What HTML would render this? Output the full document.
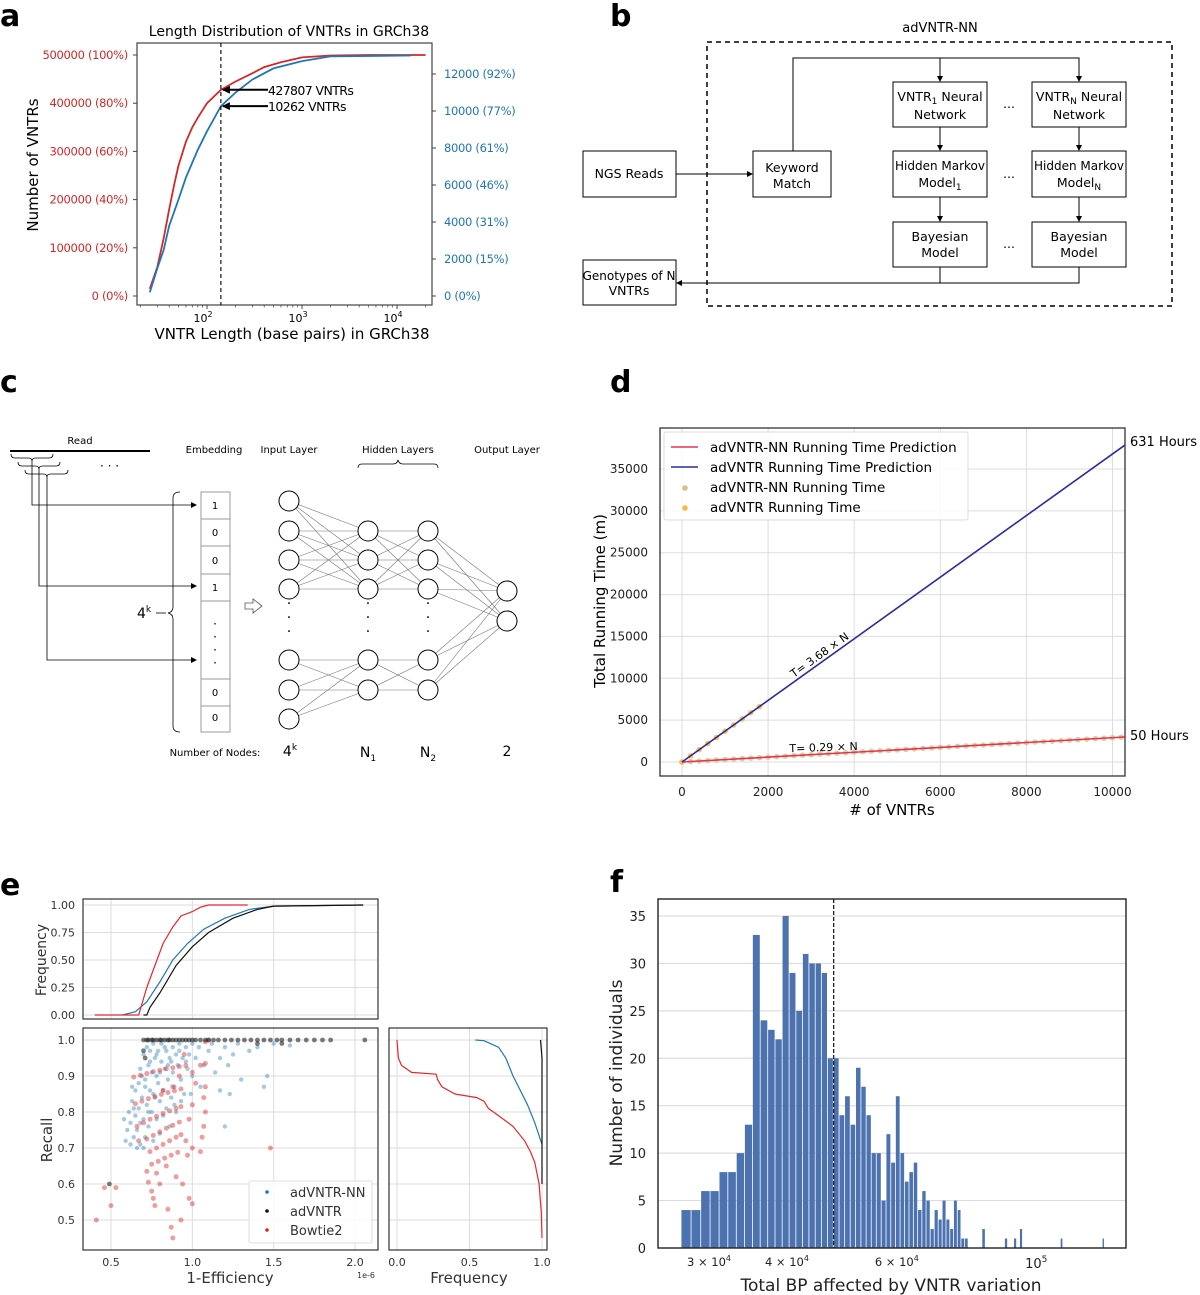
<!DOCTYPE html>
<html><head><meta charset="utf-8"><style>
body{margin:0;background:#fff}
svg{display:block;font-family:"DejaVu Sans","Liberation Sans",sans-serif}
</style></head><body>
<svg id="fig" width="1200" height="1295" viewBox="0 0 1200 1295" xmlns="http://www.w3.org/2000/svg">
<defs>
<marker id="ah" markerWidth="8" markerHeight="8" refX="7" refY="4" orient="auto" markerUnits="userSpaceOnUse"><path d="M0,0 L8,4 L0,8 z" fill="#000"/></marker>
<marker id="ahs" markerWidth="6" markerHeight="6" refX="5" refY="3" orient="auto" markerUnits="userSpaceOnUse"><path d="M0,0 L6,3 L0,6 z" fill="#000"/></marker>
</defs>
<g font-weight="bold" font-size="30" fill="#000">
<text x="0" y="26">a</text>
<text x="610" y="26">b</text>
<text x="0" y="392">c</text>
<text x="610" y="392">d</text>
<text x="0" y="895">e</text>
<text x="610" y="892">f</text>
</g>

<g id="pb" font-size="12.5" text-anchor="middle" fill="#000">
<text x="940" y="32" font-size="13">adVNTR-NN</text>
<rect x="707" y="42" width="465" height="264" fill="none" stroke="#000" stroke-width="1.5" stroke-dasharray="5,4"/>
<g fill="#fff" stroke="#000" stroke-width="1">
<rect x="583" y="151" width="93" height="46"/>
<rect x="753" y="151" width="78" height="46"/>
<rect x="893" y="82" width="94" height="45"/>
<rect x="1032" y="82" width="94" height="45"/>
<rect x="893" y="151" width="94" height="46"/>
<rect x="1032" y="151" width="94" height="46"/>
<rect x="893" y="222" width="94" height="45"/>
<rect x="1032" y="222" width="94" height="45"/>
<rect x="583" y="260" width="93" height="45"/>
</g>
<text x="629" y="178">NGS Reads</text>
<text x="792" y="172">Keyword</text><text x="792" y="188">Match</text>
<text x="940" y="101">VNTR<tspan font-size="9" dy="3">1</tspan><tspan dy="-3"> Neural</tspan></text><text x="940" y="119">Network</text>
<text x="1079" y="101">VNTR<tspan font-size="9" dy="3">N</tspan><tspan dy="-3"> Neural</tspan></text><text x="1079" y="119">Network</text>
<text x="940" y="170" font-size="12">Hidden Markov</text><text x="940" y="187">Model<tspan font-size="9" dy="3">1</tspan></text>
<text x="1079" y="170" font-size="12">Hidden Markov</text><text x="1079" y="187">Model<tspan font-size="9" dy="3">N</tspan></text>
<text x="940" y="241">Bayesian</text><text x="940" y="257">Model</text>
<text x="1079" y="241">Bayesian</text><text x="1079" y="257">Model</text>
<text x="629" y="280" font-size="12">Genotypes of N</text><text x="629" y="295">VNTRs</text>
<text x="1009" y="108">...</text><text x="1009" y="178">...</text><text x="1009" y="248">...</text>
<g fill="none" stroke="#000" stroke-width="1">
<line x1="676" y1="174" x2="752" y2="174" marker-end="url(#ahs)"/>
<path d="M793,151 V58 H940 V81" marker-end="url(#ahs)"/>
<path d="M940,58 H1079 V81" marker-end="url(#ahs)"/>
<line x1="940" y1="127" x2="940" y2="150" marker-end="url(#ahs)"/>
<line x1="1079" y1="127" x2="1079" y2="150" marker-end="url(#ahs)"/>
<line x1="940" y1="197" x2="940" y2="221" marker-end="url(#ahs)"/>
<line x1="1079" y1="197" x2="1079" y2="221" marker-end="url(#ahs)"/>
<path d="M940,267 V283"/>
<path d="M1079,267 V283 H677" marker-end="url(#ahs)"/>
</g>
</g>

<g id="pc" font-size="10" fill="#000">
<text x="80" y="444" text-anchor="middle">Read</text>
<line x1="10" y1="451" x2="150" y2="451" stroke="#000" stroke-width="2"/>
<text x="100" y="470" font-size="12">· · ·</text>
<g fill="none" stroke="#000" stroke-width="0.8">
<path d="M11,454 q0,4 4,4 h13 q4,0 4,3 q0,-3 4,-3 h13 q4,0 4,-4"/>
<path d="M18,462 q0,4 4,4 h13 q4,0 4,3 q0,-3 4,-3 h13 q4,0 4,-4"/>
<path d="M25,470 q0,4 4,4 h14 q4,0 4,3 q0,-3 4,-3 h13 q4,0 4,-4"/>
<path d="M32,461 V505 H196" marker-end="url(#ahs)"/>
<path d="M39,469 V586 H196" marker-end="url(#ahs)"/>
<path d="M47,477 V660 H196" marker-end="url(#ahs)"/>
<path d="M180,492 q-7,0 -7,6 V607 q0,5 -5,6 q5,1 5,6 V726 q0,6 7,6"/>
<line x1="156" y1="613" x2="166" y2="613"/>
</g>
<text x="137" y="618" font-size="14">4<tspan font-size="9" dy="-6">k</tspan></text>
<text x="214" y="453" text-anchor="middle">Embedding</text>
<text x="289" y="453" text-anchor="middle">Input Layer</text>
<text x="398" y="453" text-anchor="middle">Hidden Layers</text>
<text x="507" y="453" text-anchor="middle">Output Layer</text>
<path d="M358,468 q0,-4 4,-4 h31 q4,0 5,-4 q1,4 5,4 h31 q4,0 4,4" fill="none" stroke="#000" stroke-width="0.8"/>
<g stroke="#999" fill="#fff" stroke-width="1">
<rect x="201" y="492" width="29" height="240"/>
<line x1="201" y1="519" x2="230" y2="519"/><line x1="201" y1="546" x2="230" y2="546"/><line x1="201" y1="574" x2="230" y2="574"/><line x1="201" y1="601" x2="230" y2="601"/><line x1="201" y1="679" x2="230" y2="679"/><line x1="201" y1="706" x2="230" y2="706"/>
</g>
<g text-anchor="middle" font-size="10">
<text x="215" y="509">1</text><text x="215" y="536">0</text><text x="215" y="564">0</text><text x="215" y="591">1</text><text x="215" y="696">0</text><text x="215" y="721">0</text>
<text x="215" y="628" font-size="12">·</text><text x="215" y="641" font-size="12">·</text><text x="215" y="654" font-size="12">·</text><text x="215" y="667" font-size="12">·</text>
<text x="289" y="608" font-size="14">·</text><text x="289" y="622" font-size="14">·</text><text x="289" y="636" font-size="14">·</text>
<text x="368" y="608" font-size="14">·</text><text x="368" y="622" font-size="14">·</text><text x="368" y="636" font-size="14">·</text>
<text x="428" y="608" font-size="14">·</text><text x="428" y="622" font-size="14">·</text><text x="428" y="636" font-size="14">·</text>
</g>
<path d="M245,603 h8 v-4 l9,7 l-9,7 v-4 h-8 z" fill="#fff" stroke="#555" stroke-width="0.8"/>
<g id="nnEdges" stroke="#777" stroke-width="0.6"></g>
<g id="nnNodes" fill="#fff" stroke="#000" stroke-width="1"></g>
<text x="215" y="756" text-anchor="middle" font-size="10">Number of Nodes:</text>
<g font-size="14" text-anchor="middle">
<text x="290" y="756">4<tspan font-size="9" dy="-6">k</tspan></text>
<text x="368" y="757">N<tspan font-size="9" dy="4">1</tspan></text>
<text x="428" y="757">N<tspan font-size="9" dy="4">2</tspan></text>
<text x="507" y="756">2</text>
</g>
</g>

<g id="pa"></g>
<g id="pd"></g>
<g id="pe"></g>
<g id="pf"></g>
</svg>
<script>
// ---------- data panel a ----------
const aLenAll = [25,30,35,40,45,50,60,70,80,100,140,200,300,400,600,1000,2000,5000,20000];
const aCntAll = [15000,60000,120000,180000,230000,270000,320000,350000,370000,400000,427807,445000,462000,475000,485000,495000,499000,500000,500000];
const aLenSel = [25,30,35,40,50,60,80,100,140,200,300,500,1000,2000,14000];
const aCntSel = [200,1500,2500,3800,5200,6400,7900,8900,10262,11000,11700,12300,12700,12950,13000];
const aLeftTicks = [0,100000,200000,300000,400000,500000];
const aLeftLabels = ["0 (0%)","100000 (20%)","200000 (40%)","300000 (60%)","400000 (80%)","500000 (100%)"];
const aRightTicks = [0,2000,4000,6000,8000,10000,12000];
const aRightLabels = ["0 (0%)","2000 (15%)","4000 (31%)","6000 (46%)","8000 (61%)","10000 (77%)","12000 (92%)"];
const aThreshold = 140;
// ---------- data panel d ----------
const dPredN = [0,10280];
const dPredNN = [0,2981];
const dPredAdv = [0,37830];
const dNNn = [0,200,400,600,800,1000,1200,1400,1600,1800,2000,2200,2400,2600,2800,3000,3200,3400,3600,3800,4000,4200,4400,4600,4800,5000,5200,5400,5600,5800,6000,6200,6400,6600,6800,7000,7200,7400,7600,7800,8000,8200,8400,8600,8800,9000,9200,9400,9600,9800,10000,10200];
const dNNt = [0,60,115,175,230,290,350,405,465,520,580,640,695,755,810,870,930,985,1045,1100,1160,1220,1275,1335,1390,1450,1510,1565,1625,1680,1740,1800,1855,1915,1970,2030,2090,2145,2205,2260,2320,2380,2435,2495,2550,2610,2670,2725,2785,2840,2900,2960];
const dAdvN = [0,200,400,600,800,1000,1200,1400,1600,1800];
const dAdvT = [0,740,1470,2210,2940,3680,4420,5150,5890,6620];
const dXTicks = [0,2000,4000,6000,8000,10000];
const dYTicks = [0,5000,10000,15000,20000,25000,30000,35000];
// ---------- data panel e ----------
const eNNEff = [0.58,0.59,0.6,0.61,0.62,0.62,0.63,0.64,0.65,0.65,0.66,0.67,0.67,0.68,0.68,0.69,0.7,0.7,0.71,0.71,0.72,0.72,0.73,0.73,0.74,0.74,0.75,0.75,0.76,0.76,0.77,0.77,0.78,0.78,0.79,0.79,0.8,0.8,0.81,0.81,0.82,0.82,0.83,0.84,0.84,0.85,0.86,0.86,0.87,0.88,0.88,0.89,0.9,0.9,0.91,0.92,0.93,0.94,0.95,0.96,0.97,0.98,1.0,1.0,1.02,1.04,1.05,1.07,1.1,1.12,1.14,1.17,1.2,1.22,1.25,1.28,1.3,1.35,1.4,1.44,1.46,1.5,1.6,1.2,0.93,0.66,0.7,1.17,1.23,0.99,0.63,0.69,0.74,0.78,0.83,0.87,0.92,0.96,0.71,0.76,0.8,0.85,0.89,0.64,0.68,0.73];
const eNNRec = [0.78,0.72,0.75,0.8,0.71,0.77,0.83,0.73,0.79,0.86,0.75,0.88,0.81,0.71,0.92,0.84,0.78,0.96,0.73,0.89,0.82,0.98,0.76,0.93,0.86,0.97,0.8,0.91,0.72,0.99,0.84,0.95,0.78,0.9,0.88,0.97,0.74,0.83,0.94,0.99,0.86,0.79,0.92,0.97,0.81,0.89,0.95,0.76,0.84,0.98,0.91,0.87,0.96,0.8,0.93,0.99,0.89,0.95,0.85,0.98,0.92,0.96,0.99,0.9,0.95,0.98,0.87,0.93,0.97,0.99,0.91,0.95,0.98,0.93,0.96,0.99,0.89,0.97,0.98,0.87,0.9,0.99,0.985,0.76,0.83,0.7,0.7,0.86,0.85,0.85,0.87,0.9,0.94,0.96,0.98,0.94,0.97,0.94,0.87,0.85,0.91,0.93,0.82,0.81,0.77,0.8];
const eAdvEff = [0.7,0.72,0.73,0.75,0.76,0.78,0.8,0.81,0.83,0.85,0.86,0.88,0.9,0.92,0.94,0.96,0.98,1.0,1.02,1.05,1.08,1.1,1.13,1.16,1.2,1.24,1.28,1.32,1.36,1.4,1.44,1.48,1.52,1.55,1.6,1.65,1.7,1.75,1.8,1.85,2.06,0.7,0.71,0.49,1.4,1.55];
const eAdvRec = [1,1,1,1,1,1,1,1,1,1,1,1,1,1,1,1,1,1,1,1,1,1,1,1,1,1,1,1,1,1,1,1,1,1,1,1,1,1,1,1,1,0.97,0.95,0.6,0.99,0.99];
const eBowEff = [0.64,0.68,0.72,0.76,0.8,0.84,0.88,0.92,0.96,0.65,0.69,0.73,0.77,0.81,0.85,0.89,0.93,0.7,0.74,0.78,0.82,0.86,0.9,0.93,0.72,0.76,0.8,0.84,0.88,0.92,0.74,0.78,0.82,0.86,0.9,0.93,0.75,0.79,0.83,0.87,0.91,0.72,0.73,0.75,0.78,0.8,0.76,0.77,0.85,0.87,0.88,0.93,0.98,0.5,0.46,0.41,0.53,0.66,0.67,1.05,1.08,1.08,1.07,1.08,1.07,1.06,1.05,1.0,1.02,1.0,0.98,1.0,0.97,1.48,1.1,1.08,0.95,0.88,0.92,0.82,0.96,0.94,1.0,0.9,0.84];
const eBowRec = [0.897,0.902,0.907,0.912,0.916,0.92,0.923,0.926,0.929,0.823,0.83,0.837,0.843,0.849,0.854,0.859,0.864,0.77,0.78,0.788,0.796,0.803,0.81,0.815,0.725,0.735,0.745,0.755,0.763,0.772,0.69,0.7,0.71,0.72,0.73,0.737,0.655,0.663,0.672,0.68,0.688,0.635,0.605,0.58,0.63,0.6,0.56,0.54,0.53,0.48,0.45,0.5,0.56,0.54,0.59,0.5,0.59,0.76,0.72,0.93,0.935,0.87,0.84,0.8,0.76,0.73,0.69,0.91,0.88,0.82,0.78,0.7,0.68,0.7,1.0,0.995,0.96,0.87,0.9,0.86,0.72,0.6,0.545,0.62,0.65];
const eCdfNNx = [0.57,0.65,0.72,0.8,0.88,0.97,1.07,1.2,1.35,1.5,2.05];
const eCdfNNy = [0,0.03,0.12,0.3,0.5,0.65,0.78,0.88,0.96,0.99,1.0];
const eCdfAdvX = [0.7,0.72,0.74,0.8,0.9,1.0,1.1,1.25,1.4,1.5,2.05];
const eCdfAdvY = [0,0,0.07,0.2,0.45,0.62,0.75,0.88,0.96,0.99,1.0];
const eCdfBowX = [0.4,0.67,0.69,0.72,0.77,0.82,0.88,0.93,1.0,1.05,1.1,1.34];
const eCdfBowY = [0,0,0.1,0.25,0.45,0.65,0.8,0.9,0.94,0.98,1.0,1.0];
const eRNNf = [0.54,0.6,0.7,0.75,0.8,0.85,0.9,0.95,1.0];
const eRNNr = [1.0,0.998,0.98,0.95,0.9,0.86,0.82,0.77,0.71];
const eRAdvF = [0.99,1.0,1.0];
const eRAdvR = [1.0,0.95,0.6];
const eRBowF = [0,0.01,0.03,0.1,0.27,0.28,0.31,0.4,0.55,0.6,0.63,0.7,0.8,0.88,0.92,0.95,0.98,0.995,1.0];
const eRBowR = [1.0,0.95,0.93,0.91,0.905,0.89,0.87,0.85,0.84,0.83,0.81,0.79,0.76,0.72,0.69,0.66,0.6,0.52,0.45];
const eXTicks = [0.5,1.0,1.5,2.0];
const eYTicks = [0.5,0.6,0.7,0.8,0.9,1.0];
const eTopTicks = [0,0.25,0.5,0.75,1.0];
const eTopLabels = ["0.00","0.25","0.50","0.75","1.00"];
const eRTicks = [0,0.5,1.0];
// ---------- data panel f ----------
const fBinStart = 26800;
const fBinWidth = 1010;
const fCounts = [4,4,6,6,8,8,10,13,33,24,23,22,35,29,25,31,30,30,29,20,20,14,16,13,19,17,14,10,10,5,12,9,16,10,7,8,9,4,6,5,2,4,3,5,3,2,5,4,1,1,0,0,0,0,2,0,0,0,0,0,0,1,0,0,1,0,2,0,0,0,0,0,0,0,0,0,0,0,0,0,0,1,0,0,0,0,0,0,0,0,0,0,0,0,0,0,0,0,0,1];
const fMedian = 47000;
const fYTicks = [0,5,10,15,20,25,30,35];
const fXTicks = [30000,40000,60000,100000];

const NS = "http://www.w3.org/2000/svg";
function mk(tag, attrs, parent){const e=document.createElementNS(NS,tag);for(const k in attrs)e.setAttribute(k,attrs[k]);parent.appendChild(e);return e;}
function txt(s, attrs, parent){const e=mk('text',attrs,parent);e.textContent=s;return e;}
function poly(xs, ys, fx, fy){return xs.map((v,i)=>fx(v).toFixed(1)+','+fy(ys[i]).toFixed(1)).join(' ');}

(function(){
  const E=document.getElementById('nnEdges'), N=document.getElementById('nnNodes');
  const inU=[501,531,560,589], inL=[660,690,719], hU=[531,560,589], hL=[660,690], out=[591,621];
  function conn(x1,a,x2,b){a.forEach(y1=>b.forEach(y2=>{const l=mk('line',{x1:x1,y1:y1,x2:x2,y2:y2},E);}));}
  conn(289,inU,368,hU);conn(289,inL,368,hL);conn(368,hU,428,hU);conn(368,hL,428,hL);conn(428,hU.concat(hL),507,out);
  [[289,inU.concat(inL)],[368,hU.concat(hL)],[428,hU.concat(hL)],[507,out]].forEach(([x,ys])=>ys.forEach(y=>{const c=mk('circle',{cx:x,cy:y,r:10},N);}));
})();

// ---------- panel a ----------
(function(){
  const g=document.getElementById('pa');
  const L=137,R=432,T=43,B=305;
  const xa=v=>207+95*(Math.log10(v)-2), ya=c=>296-c*241/500000, yb=c=>296-c*18.5/1000;
  txt('Length Distribution of VNTRs in GRCh38',{x:289,y:36,'font-size':14,'text-anchor':'middle'},g);
  const fr=mk('rect',{x:L,y:T,width:R-L,height:B-T,fill:'none',stroke:'#444','stroke-width':1.2},g);
  
  aLeftTicks.forEach((t,i)=>{mk('line',{x1:L-4,x2:L,y1:ya(t),y2:ya(t),stroke:'#444'},g);
    const e=txt(aLeftLabels[i],{x:L-9,y:ya(t)+4,'font-size':11.5,fill:'#d62728','text-anchor':'end','letter-spacing':'-0.3'},g);});
  aRightTicks.forEach((t,i)=>{mk('line',{x1:R,x2:R+4,y1:yb(t),y2:yb(t),stroke:'#444'},g);
    const e=txt(aRightLabels[i],{x:R+12,y:yb(t)+4,'font-size':11.5,fill:'#1f77b4','letter-spacing':'-0.3'},g);});
  [2,3,4].forEach(p=>{mk('line',{x1:xa(10**p),x2:xa(10**p),y1:B,y2:B+4,stroke:'#444'},g);
    const t=txt('10',{x:xa(10**p)-4,y:B+17,'font-size':11,'text-anchor':'middle'},g);const s=mk('tspan',{'font-size':8,dy:-5},t);s.textContent=String(p);
    });
  for(let p=1;p<=4;p++)for(let m=2;m<=9;m++){const v=m*10**p;const x=xa(v);if(x>L&&x<R)mk('line',{x1:x,x2:x,y1:B,y2:B+2.5,stroke:'#444','stroke-width':0.7},g);}
  const xl=txt('VNTR Length (base pairs) in GRCh38',{x:292,y:339,'font-size':15,'text-anchor':'middle'},g);
  const yl=txt('Number of VNTRs',{x:0,y:0,'font-size':15,'text-anchor':'middle',transform:'translate(38,165) rotate(-90)'},g);
  const c1=mk('polyline',{points:poly(aLenAll,aCntAll,xa,ya),fill:'none',stroke:'#d62728','stroke-width':1.8},g);
  const c2=mk('polyline',{points:poly(aLenSel,aCntSel,xa,yb),fill:'none',stroke:'#1f77b4','stroke-width':1.8},g);
  const th=mk('line',{x1:xa(aThreshold),x2:xa(aThreshold),y1:T,y2:B,stroke:'#000','stroke-dasharray':'4,3','stroke-width':1.1},g);
  const y1=ya(427807), y2=yb(10262);
  mk('line',{x1:268,y1:y1,x2:xa(aThreshold)+2,y2:y1,stroke:'#000','stroke-width':2,'marker-end':'url(#ah)'},g);
  mk('line',{x1:268,y1:y2,x2:xa(aThreshold)+2,y2:y2,stroke:'#000','stroke-width':2,'marker-end':'url(#ah)'},g);
  const a1=txt('427807 VNTRs',{x:268,y:y1+5,'font-size':12.5,'letter-spacing':'-0.6'},g);
  const a2=txt('10262 VNTRs',{x:268,y:y2+5,'font-size':12.5,'letter-spacing':'-0.6'},g);
})();

// ---------- panel d ----------
(function(){
  const g=document.getElementById('pd');
  const L=660,R=1125,T=428,B=776;
  const xd=n=>682+n*0.04305, yd=t=>762-t*0.008371;
  dXTicks.forEach(t=>{mk('line',{x1:xd(t),x2:xd(t),y1:T,y2:B,stroke:'#ddd','stroke-width':1},g);
    const e=txt(String(t),{x:xd(t),y:796,'font-size':12,'text-anchor':'middle',fill:'#222'},g);});
  dYTicks.forEach(t=>{mk('line',{x1:L,x2:R,y1:yd(t),y2:yd(t),stroke:'#ddd','stroke-width':1},g);
    const e=txt(String(t),{x:648,y:yd(t)+4,'font-size':12,'text-anchor':'end',fill:'#222'},g);});
  const fr=mk('rect',{x:L,y:T,width:R-L,height:B-T,fill:'none',stroke:'#333','stroke-width':1.3},g);
  dNNn.forEach((n,i)=>{const c=mk('circle',{cx:xd(n),cy:yd(dNNt[i]),r:2.8,fill:'#d8c08e',opacity:0.8},g);});
  dAdvN.forEach((n,i)=>{const c=mk('circle',{cx:xd(n),cy:yd(dAdvT[i]),r:2.8,fill:'#f7b844',opacity:0.85},g);});
  const l1=mk('polyline',{points:poly(dPredN,dPredNN,xd,yd),stroke:'#e8334a','stroke-width':1.6,fill:'none'},g);
  const l2=mk('polyline',{points:poly(dPredN,dPredAdv,xd,yd),stroke:'#2b2ba3','stroke-width':1.6,fill:'none'},g);
  const ang=Math.atan2(yd(dPredAdv[1])-yd(0),xd(dPredN[1])-xd(0))*180/Math.PI;
  txt('T= 3.68 × N',{x:0,y:0,'font-size':11,transform:`translate(${xd(2600)},${yd(2600*3.68)-4}) rotate(${ang})`},g);
  txt('T= 0.29 × N',{x:xd(2500),y:yd(800)-3,'font-size':11,transform:`rotate(-2 ${xd(2500)} ${yd(800)})`},g);
  const h1=txt('631 Hours',{x:1130,y:446,'font-size':13},g);
  const h2=txt('50 Hours',{x:1130,y:740,'font-size':13},g);
  const xl=txt('# of VNTRs',{x:892,y:815,'font-size':15,'text-anchor':'middle'},g);
  const yl=txt('Total Running Time (m)',{x:0,y:0,'font-size':15,'text-anchor':'middle',transform:'translate(605,601) rotate(-90)'},g);
  const lg=mk('g',{},g);
  mk('rect',{x:664,y:432,width:304,height:88,fill:'#fff','fill-opacity':0.85,stroke:'#ddd',rx:2},lg);
  mk('line',{x1:671,x2:698,y1:447,y2:447,stroke:'#e8334a','stroke-width':1.6},lg);
  mk('line',{x1:671,x2:698,y1:467,y2:467,stroke:'#2b2ba3','stroke-width':1.6},lg);
  mk('circle',{cx:685,cy:488,r:2.8,fill:'#d8c08e'},lg);mk('circle',{cx:685,cy:508,r:2.8,fill:'#f7b844'},lg);
  ['adVNTR-NN Running Time Prediction','adVNTR Running Time Prediction','adVNTR-NN Running Time','adVNTR Running Time'].forEach((s,i)=>{const e=txt(s,{x:710,y:452+20*i,'font-size':13.5},lg);});
})();

// ---------- panel e ----------
(function(){
  const g=document.getElementById('pe');
  const xe=v=>111+(v-0.5)*162.7, ye=r=>1040+(1-r)*360, yt=f=>1015-f*110, xr=f=>397+f*145;
  const gray='#333';
  eXTicks.forEach(t=>mk('line',{x1:xe(t),x2:xe(t),y1:899,y2:1019,stroke:'#ddd'},g));
  eTopTicks.forEach((t,i)=>{mk('line',{x1:83,x2:378,y1:yt(t),y2:yt(t),stroke:'#ddd'},g);
    const e=txt(eTopLabels[i],{x:75,y:yt(t)+4,'font-size':11,'text-anchor':'end',fill:gray},g);});
  [[eCdfNNx,eCdfNNy,'#1f77b4','nn-cdf'],[eCdfAdvX,eCdfAdvY,'#111','adv-cdf'],[eCdfBowX,eCdfBowY,'#e8262b','bowtie-cdf']].forEach(([xs,ys,c,n])=>{
    const p=mk('polyline',{points:poly(xs,ys,xe,yt),fill:'none',stroke:c,'stroke-width':1.2},g);});
  mk('rect',{x:83,y:899,width:295,height:120,fill:'none',stroke:gray,'stroke-width':1.2},g);
  const tyl=txt('Frequency',{x:0,y:0,'font-size':14,'text-anchor':'middle',fill:gray,transform:'translate(46,960) rotate(-90)'},g);
  eXTicks.forEach(t=>{mk('line',{x1:xe(t),x2:xe(t),y1:1028,y2:1250,stroke:'#ddd'},g);
    const e=txt(t.toFixed(1),{x:xe(t),y:1266,'font-size':11,'text-anchor':'middle',fill:gray},g);});
  eYTicks.forEach(t=>{mk('line',{x1:83,x2:378,y1:ye(t),y2:ye(t),stroke:'#ddd'},g);mk('line',{x1:389,x2:547,y1:ye(t),y2:ye(t),stroke:'#ddd'},g);
    const e=txt(t.toFixed(1),{x:75,y:ye(t)+4,'font-size':11,'text-anchor':'end',fill:gray},g);});
  eNNEff.forEach((v,i)=>{const c=mk('circle',{cx:xe(v),cy:ye(eNNRec[i]),r:2.2,fill:'#1f77b4',opacity:0.4},g);});
  eBowEff.forEach((v,i)=>{const c=mk('circle',{cx:xe(v),cy:ye(eBowRec[i]),r:2.5,fill:'#d62728',opacity:0.45},g);});
  eAdvEff.forEach((v,i)=>{const c=mk('circle',{cx:xe(v),cy:ye(eAdvRec[i]),r:2.4,fill:'#111',opacity:0.55},g);});
  mk('rect',{x:83,y:1028,width:295,height:222,fill:'none',stroke:gray,'stroke-width':1.2},g);
  const lg=mk('g',{},g);
  mk('rect',{x:249,y:1181,width:123,height:62,fill:'#fff','fill-opacity':0.85,stroke:'#ddd',rx:2},lg);
  [['adVNTR-NN','#1f77b4'],['adVNTR','#111'],['Bowtie2','#d62728']].forEach(([s,c],i)=>{mk('circle',{cx:267,cy:1192+19*i,r:1.8,fill:c},lg);
    const e=txt(s,{x:290,y:1197+19*i,'font-size':13,fill:gray},lg);});
  txt('1e-6',{x:357,y:1278,'font-size':8,fill:gray},g);
  const xl=txt('1-Efficiency',{x:230,y:1283,'font-size':15,'text-anchor':'middle',fill:gray},g);
  const yl=txt('Recall',{x:0,y:0,'font-size':15,'text-anchor':'middle',fill:gray,transform:'translate(52,1140) rotate(-90)'},g);
  eRTicks.forEach(t=>{mk('line',{x1:xr(t),x2:xr(t),y1:1028,y2:1250,stroke:'#ddd'},g);
    const e=txt(t.toFixed(1),{x:xr(t),y:1266,'font-size':11,'text-anchor':'middle',fill:gray},g);});
  [[eRNNf,eRNNr,'#1f77b4','nn-recall-cdf'],[eRAdvF,eRAdvR,'#111','adv-recall-cdf'],[eRBowF,eRBowR,'#e8262b','bowtie-recall-cdf']].forEach(([xs,ys,c,n])=>{
    const p=mk('polyline',{points:poly(xs,ys,xr,ye),fill:'none',stroke:c,'stroke-width':1.2},g);});
  mk('rect',{x:389,y:1028,width:158,height:222,fill:'none',stroke:gray,'stroke-width':1.2},g);
  const rl=txt('Frequency',{x:469,y:1283,'font-size':15,'text-anchor':'middle',fill:gray},g);
})();

// ---------- panel f ----------
(function(){
  const g=document.getElementById('pf');
  const L=658,R=1126,T=899,B=1248;
  const xf=v=>712+624*Math.log10(v/30000), yf=c=>1248-c*9.486;
  fYTicks.forEach(t=>{if(t>0)mk('line',{x1:L,x2:R,y1:yf(t),y2:yf(t),stroke:'#ddd','stroke-width':1.2},g);
    const e=txt(String(t),{x:646,y:yf(t)+5,'font-size':13,'text-anchor':'end',fill:'#222'},g);});
  fCounts.forEach((c,i)=>{if(!c)return;const x0=xf(fBinStart+i*fBinWidth),x1=xf(fBinStart+(i+1)*fBinWidth);
    const r=mk('rect',{x:x0,y:yf(c),width:Math.max(x1-x0-0.8,0.8),height:yf(0)-yf(c),fill:'#4c72b0'},g);});
  const md=mk('line',{x1:xf(fMedian),x2:xf(fMedian),y1:T,y2:B,stroke:'#222','stroke-width':1.3,'stroke-dasharray':'4,2'},g);
  mk('rect',{x:L,y:T,width:R-L,height:B-T,fill:'none',stroke:'#222','stroke-width':1.4},g);
  fXTicks.forEach(v=>{let t;
    if(v===100000){t=txt('10',{x:xf(v)-2,y:1268,'font-size':13,'text-anchor':'middle',fill:'#222'},g);const s=mk('tspan',{'font-size':9,dy:-6},t);s.textContent='5';}
    else{t=txt(String(v/10000)+' × 10',{x:xf(v)-3,y:1266,'font-size':11.5,'text-anchor':'middle',fill:'#222'},g);const s=mk('tspan',{'font-size':8,dy:-5},t);s.textContent='4';}
    });
  const xl=txt('Total BP affected by VNTR variation',{x:891,y:1291,'font-size':17,'text-anchor':'middle',fill:'#222'},g);
  const yl=txt('Number of individuals',{x:0,y:0,'font-size':17,'text-anchor':'middle',fill:'#222',transform:'translate(622,1073) rotate(-90)'},g);
})();
</script>
</body></html>
